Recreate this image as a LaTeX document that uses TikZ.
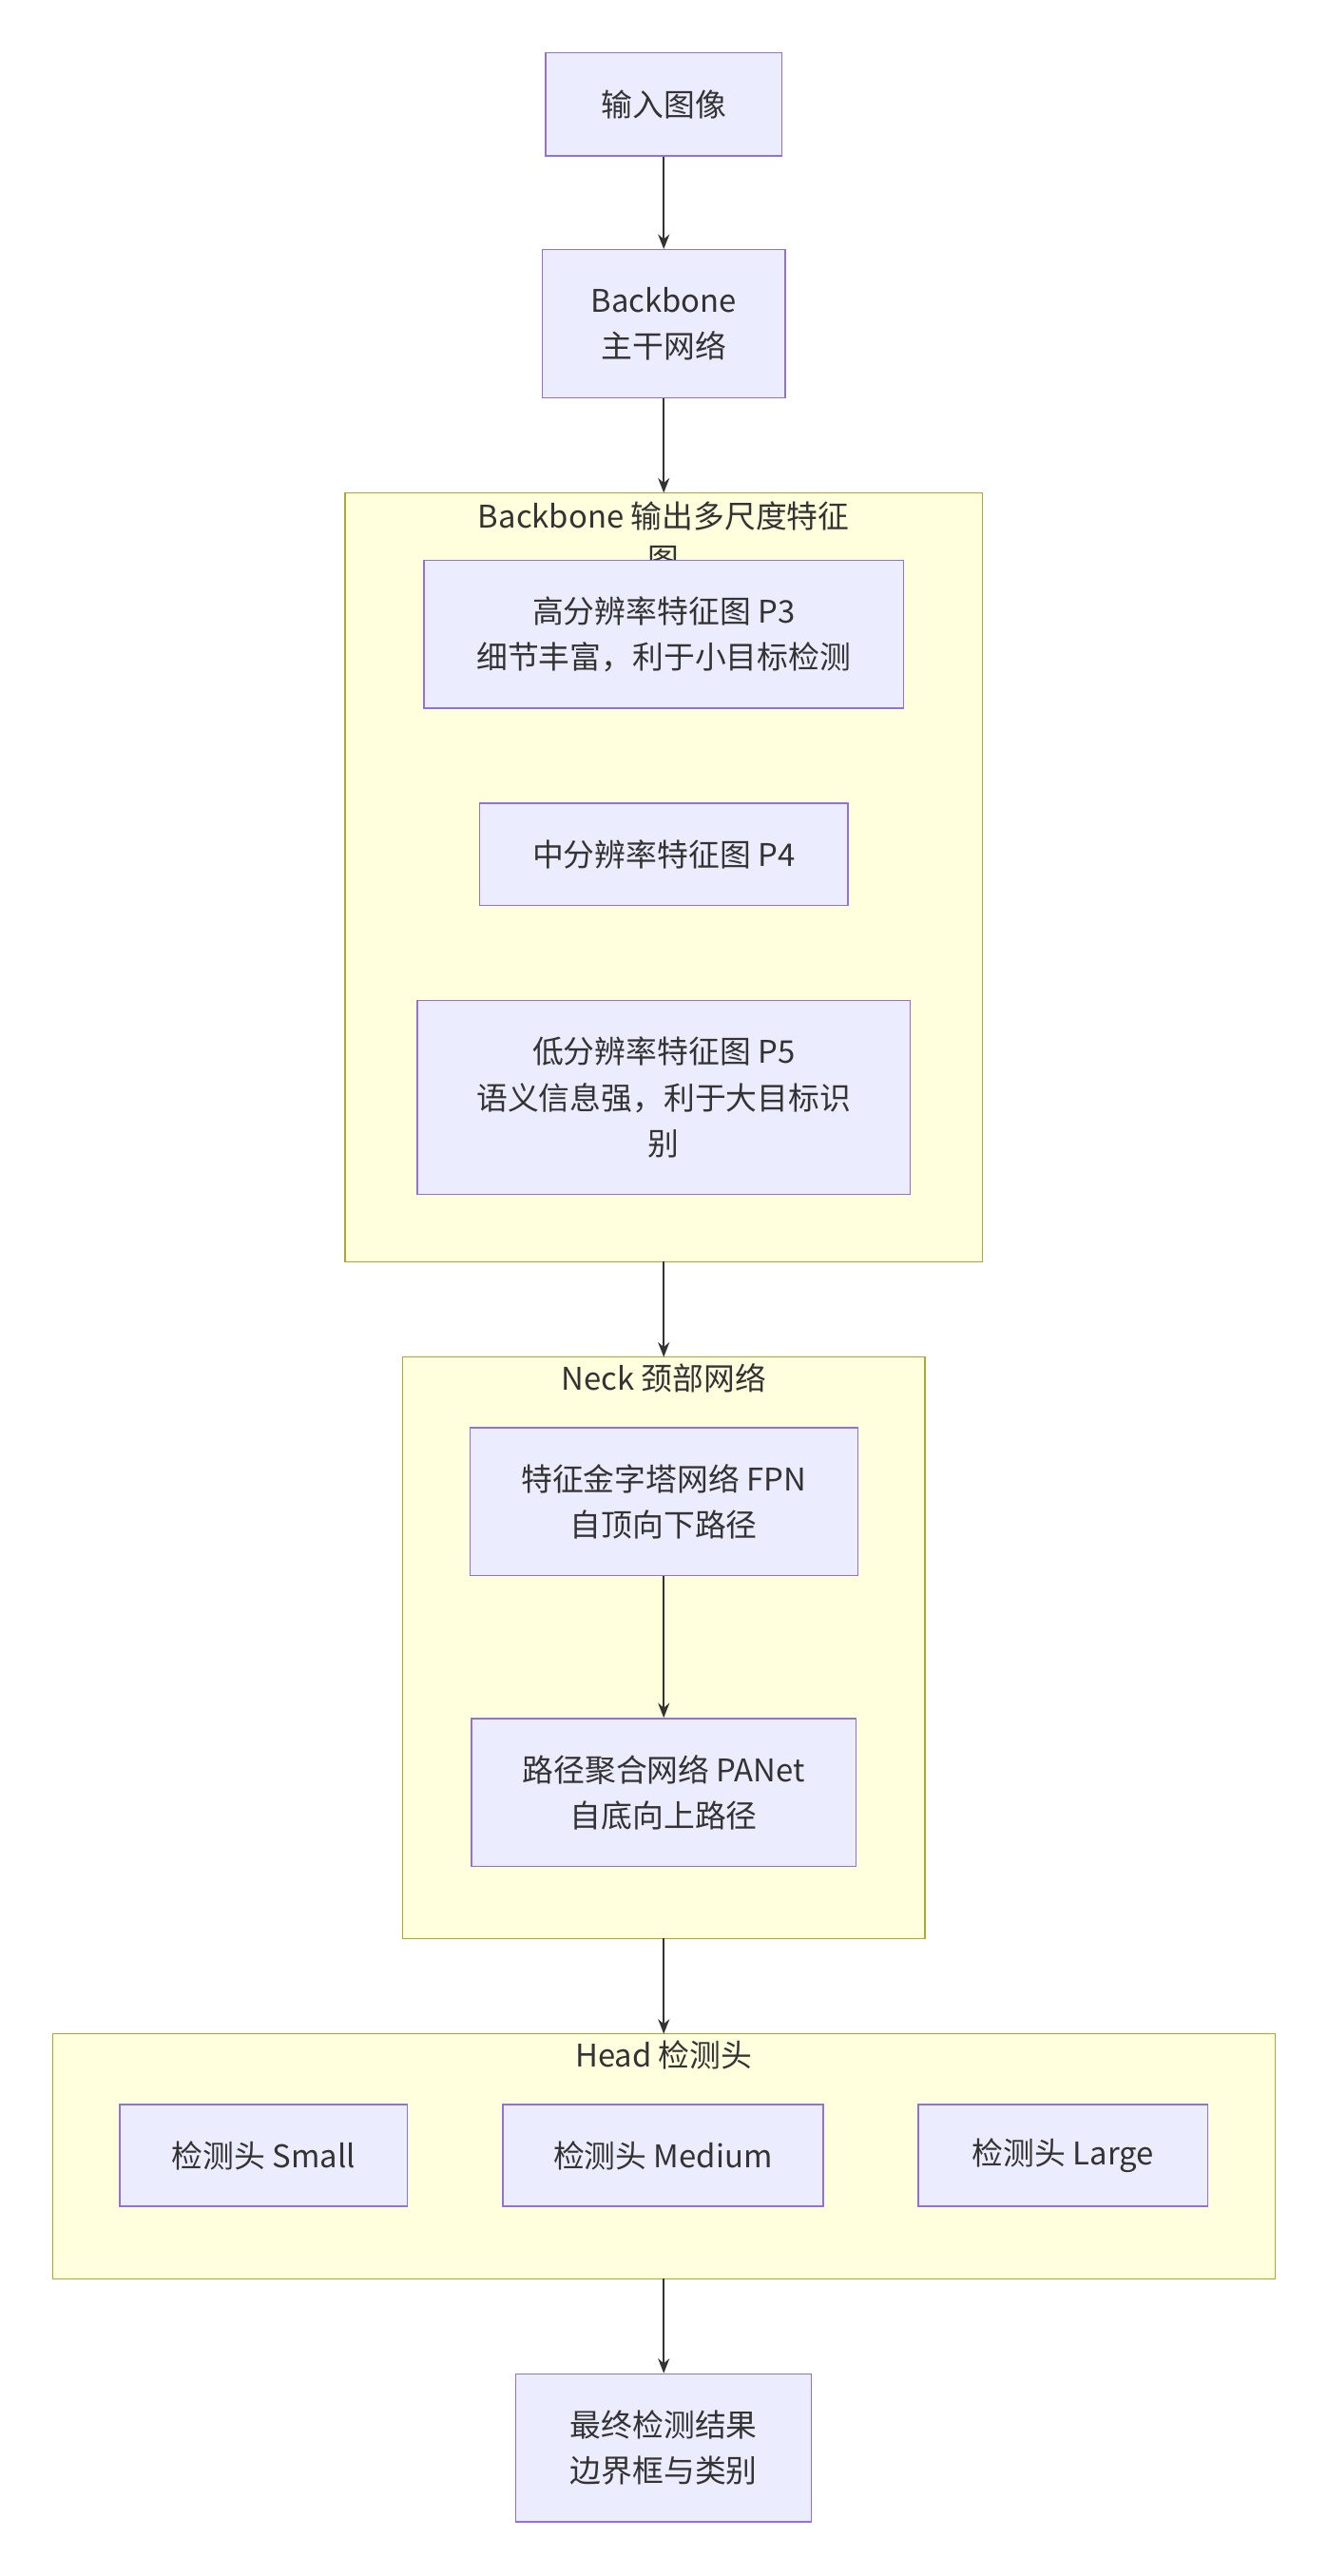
\documentclass[tikz,border=0pt]{standalone}
\usepackage{fontspec}
\setmainfont{Noto Sans CJK SC}
\usetikzlibrary{arrows.meta}
\definecolor{nf}{HTML}{ECECFF}\definecolor{ns}{HTML}{9370DB}
\definecolor{cf}{HTML}{FFFFDE}\definecolor{cs}{HTML}{AAAA33}
\definecolor{tx}{HTML}{333333}
\begin{document}
\begin{tikzpicture}[x=1pt,y=-1pt,
 box/.style={draw=ns,fill=nf,line width=0.8pt,inner sep=0pt,align=center,text=tx,font=\fontsize{19}{28}\selectfont},
 clu/.style={draw=cs,fill=cf,line width=0.8pt},
 ttl/.style={text=tx,font=\fontsize{19}{26}\selectfont,align=center,inner sep=0pt},
 ar/.style={draw=tx,line width=0.9pt,-{Stealth[length=9pt,width=7pt]}}]
\useasboundingbox (0,0) rectangle (808,1568);
\fill[white] (0,0) rectangle (808,1568);
\node[box,minimum width=144,minimum height=63] (in) at (404,63.5) {输入图像};
\node[box,minimum width=148,minimum height=90] (bb) at (404,197) {Backbone\\主干网络};
\draw[clu] (210,300) rectangle (598,768);
\coordinate (c1t) at (404,300); \coordinate (c1b) at (404,768);
\node[ttl] (t1) at (404,327) {Backbone 输出多尺度特征\\图};
\node[box,minimum width=292,minimum height=90] (p3) at (404,386) {高分辨率特征图 P3\\细节丰富，利于小目标检测};
\node[box,minimum width=224,minimum height=62] (p4) at (404,520) {中分辨率特征图 P4};
\node[box,minimum width=300,minimum height=118] (p5) at (404,668) {低分辨率特征图 P5\\语义信息强，利于大目标识\\别};
\draw[clu] (245,826) rectangle (563,1180);
\coordinate (c2t) at (404,826); \coordinate (c2b) at (404,1180);
\node[ttl] (t2) at (404,839) {Neck 颈部网络};
\node[box,minimum width=236,minimum height=90] (fpn) at (404,914) {特征金字塔网络 FPN\\自顶向下路径};
\node[box,minimum width=234,minimum height=90] (pan) at (404,1091) {路径聚合网络 PANet\\自底向上路径};
\draw[clu] (32,1238) rectangle (776,1387);
\coordinate (c3t) at (404,1238); \coordinate (c3b) at (404,1387);
\node[ttl] (t3) at (404,1251) {Head 检测头};
\node[box,minimum width=175,minimum height=62] (hs) at (160.5,1312) {检测头 Small};
\node[box,minimum width=195,minimum height=62] (hm) at (403.5,1312) {检测头 Medium};
\node[box,minimum width=176,minimum height=62] (hl) at (647,1312) {检测头 Large};
\node[box,minimum width=180,minimum height=90] (out) at (404,1490) {最终检测结果\\边界框与类别};
\draw[ar] (in) -- (bb);
\draw[ar] (bb) -- (c1t);
\draw[ar] (c1b) -- (c2t);
\draw[ar] (fpn) -- (pan);
\draw[ar] (c2b) -- (c3t);
\draw[ar] (c3b) -- (out);
\end{tikzpicture}
\end{document}
